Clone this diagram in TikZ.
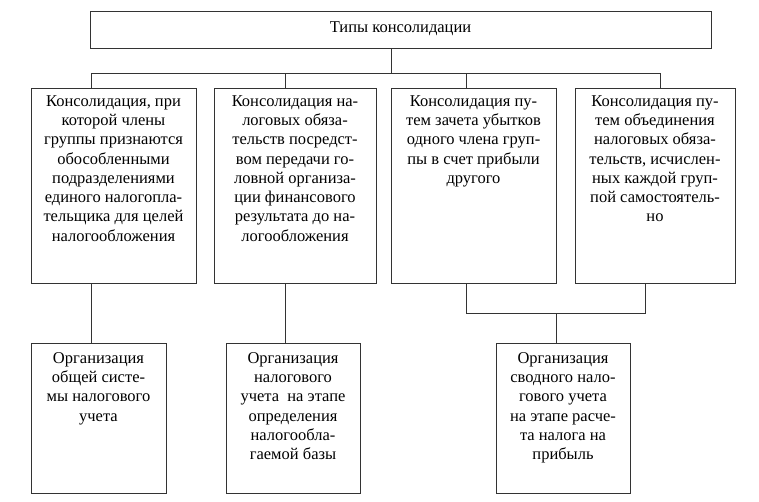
\documentclass[tikz,border=0pt]{standalone}
\usepackage{fontspec}
\setmainfont{Liberation Serif}
\usetikzlibrary{calc}
\begin{document}
\begin{tikzpicture}[x=1pt,y=-1pt,
  box/.style={draw=black!80,line width=0.8pt,inner sep=0pt,fill=white},
  txt/.style={inner sep=0pt,align=center,anchor=north,font=\fontsize{16.5}{19.3}\selectfont},
  conn/.style={draw=black!80,line width=0.8pt}]
\useasboundingbox (0,0) rectangle (759,501);
% top
\node[box,minimum width=621pt,minimum height=37pt] (top) at (400.5,29.5) {};
\node[txt,anchor=center] (toptxt) at (400.5,28.5) {Типы консолидации};
% level 1
\node[box,minimum width=165pt,minimum height=195pt] (b1) at (113.5,185.5) {};
\node[box,minimum width=162pt,minimum height=195pt] (b2) at (295,185.5) {};
\node[box,minimum width=165pt,minimum height=195pt] (b3) at (473.5,185.5) {};
\node[box,minimum width=160pt,minimum height=195pt] (b4) at (655,185.5) {};
\node[txt] (t1) at ($(b1.north)+(0,7.5)$) {Консолидация, при\\которой члены\\группы признаются\\обособленными\\подразделениями\\единого налогопла-\\тельщика для целей\\налогообложения};
\node[txt] (t2) at ($(b2.north)+(0,7.5)$) {Консолидация на-\\логовых обяза-\\тельств посредст-\\вом передачи го-\\ловной организа-\\ции финансового\\результата до на-\\логообложения};
\node[txt] (t3) at ($(b3.north)+(0,7.5)$) {Консолидация пу-\\тем зачета убытков\\одного члена груп-\\пы в счет прибыли\\другого};
\node[txt] (t4) at ($(b4.north)+(0,7.5)$) {Консолидация пу-\\тем объединения\\налоговых обяза-\\тельств, исчислен-\\ных каждой груп-\\пой самостоятель-\\но};
% level 2
\node[box,minimum width=135pt,minimum height=150pt] (c1) at (98.5,418) {};
\node[box,minimum width=134pt,minimum height=150pt] (c2) at (293,418) {};
\node[box,minimum width=134pt,minimum height=150pt] (c3) at (563,418) {};
\node[txt] (u1) at ($(c1.north)+(0,9.5)$) {Организация\\общей систе-\\мы налогового\\учета};
\node[txt] (u2) at ($(c2.north)+(0,9.5)$) {Организация\\налогового\\учета \ на этапе\\определения\\налогообла-\\гаемой базы};
\node[txt] (u3) at ($(c3.north)+(0,9.5)$) {Организация\\сводного нало-\\гового учета\\на этапе расче-\\та налога на\\прибыль};
% junction coordinates
\coordinate (j0) at (391,73);
\coordinate (j1) at (91,73);
\coordinate (j2) at (285,73);
\coordinate (j3) at (466,73);
\coordinate (j4) at (660,73);
\coordinate (k1) at (91,313);
\coordinate (k2) at (285,313);
\coordinate (k3) at (466,313);
\coordinate (k4) at (645,313);
\coordinate (k5) at (556,313);
% connectors
\draw[conn] (top.south -| j0) -- (j0);
\draw[conn] (j1) -- (j4);
\draw[conn] (j1) -- (j1 |- b1.north);
\draw[conn] (j2) -- (j2 |- b2.north);
\draw[conn] (j3) -- (j3 |- b3.north);
\draw[conn] (j4) -- (j4 |- b4.north);
\draw[conn] (b1.south -| k1) -- (k1 |- c1.north);
\draw[conn] (b2.south -| k2) -- (k2 |- c2.north);
\draw[conn] (b3.south -| k3) -- (k3) -- (k4) -- (b4.south -| k4);
\draw[conn] (k5) -- (k5 |- c3.north);
\end{tikzpicture}
\end{document}
